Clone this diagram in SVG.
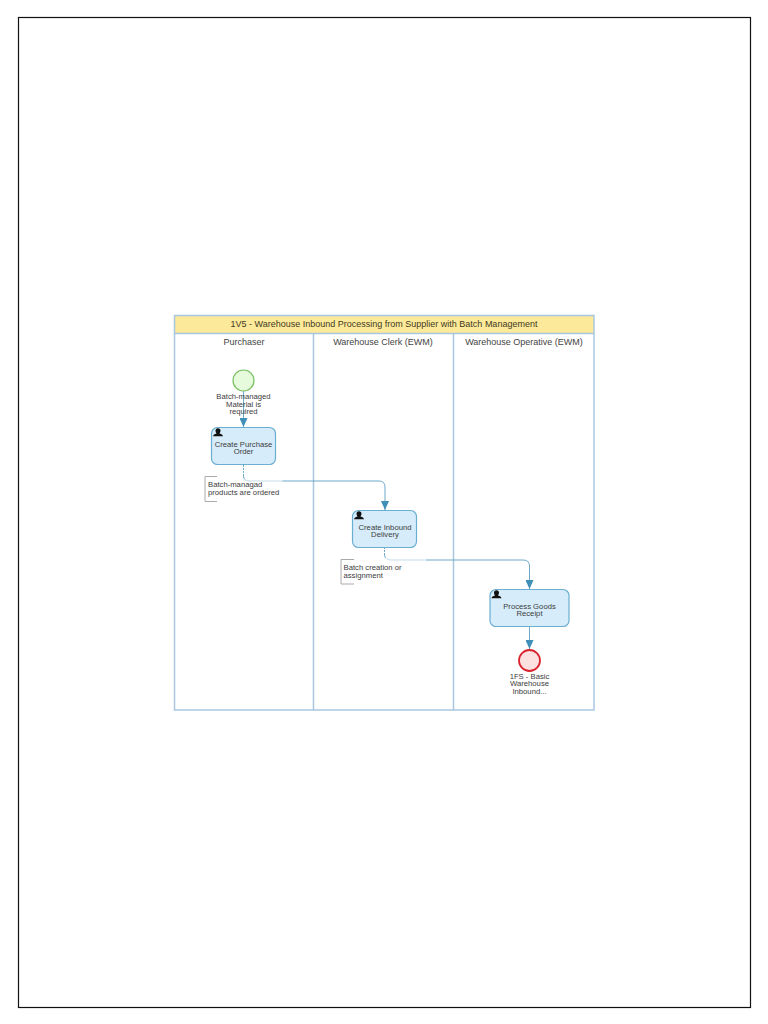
<svg xmlns="http://www.w3.org/2000/svg" width="768" height="1024" viewBox="0 0 768 1024">
<defs>
<marker id="arrowDown" markerUnits="userSpaceOnUse" markerWidth="9" markerHeight="8" refX="9" refY="4" orient="auto" viewBox="0 0 9 8"><path d="M0 0L9 4L0 8Z" fill="#3f8fb8"/></marker>
<path id="user" d="M-2.500 -4.200a2.500 2.500 0 0 1 5 0c0 1.200 -.5 2 -1 2.600c2.200 .5 3.200 1.400 3.600 2.900h-10.200c.4 -1.500 1.400 -2.400 3.600 -2.900c-.5 -.6 -1 -1.400 -1 -2.600z" fill="#111"/>
</defs>
<style>
text{font-family:"Liberation Sans",Arial,sans-serif;font-size:7.700px;fill:#3c3c3c;text-anchor:middle}
.head{font-size:9px;fill:#444}
.title{font-size:9px;fill:#3f3a22}
.note{text-anchor:start}
.lane{fill:none;stroke:#a9c6e0;stroke-width:1.500}
.task{fill:#d6ecfb;stroke:#6aaed0;stroke-width:1.200}
.flow{fill:none;stroke:#6fa9c9;stroke-width:1}
.bracket{fill:none;stroke:#aaa;stroke-width:1}
</style>
<rect x="18.500" y="17.500" width="732" height="990" fill="#fff" stroke="#111" stroke-width="1.200"/>
<g id="pool">
<rect x="174.500" y="315.500" width="419.500" height="18" fill="#fde99a"/>
<rect class="lane" x="174.500" y="315.500" width="419.500" height="394.500"/>
<path class="lane" d="M174.500 333.500H594M313.500 333.500V710M453.500 333.500V710"/>
<text class="title" x="384" y="327">1V5 - Warehouse Inbound Processing from Supplier with Batch Management</text>
<text class="head" x="244" y="345">Purchaser</text>
<text class="head" x="383" y="345">Warehouse Clerk (EWM)</text>
<text class="head" x="524" y="345">Warehouse Operative (EWM)</text>
</g>
<g id="connectors">
<path class="flow" d="M243.500 391V427" marker-end="url(#arrowDown)"/>
<path class="flow" d="M243.500 465V476" stroke-dasharray="2 1"/>
<path class="flow" d="M243.500 476Q243.500 481 250 481H379Q385 481 385 487V510" marker-end="url(#arrowDown)"/>
<path class="flow" d="M384.500 547V555" stroke-dasharray="2 1"/>
<path class="flow" d="M384.500 555Q385 560 392 560H523Q529.500 560 529.500 566V589" marker-end="url(#arrowDown)"/>
<path class="flow" d="M529.500 627V649" marker-end="url(#arrowDown)"/>
<rect x="244.500" y="479" width="38" height="4" fill="#fff" opacity=".6"/>
<rect x="386" y="558" width="40" height="4" fill="#fff" opacity=".6"/>
</g>
<g id="start">
<circle cx="243.500" cy="380.500" r="10.500" fill="#e6fadc" stroke="#79bf63" stroke-width="1.200"/>
<text x="243.500" y="399">Batch-managed</text>
<text x="243.500" y="406.500">Material is</text>
<text x="243.500" y="413.500">required</text>
</g>
<g id="task-purchase">
<rect class="task" x="211.500" y="427.500" width="64" height="37" rx="6"/>
<use href="#user" x="218" y="435"/>
<text x="243.500" y="446.500">Create Purchase</text>
<text x="243.500" y="454">Order</text>
</g>
<g id="note-ordered">
<path class="bracket" d="M217 476.500H205V501.500H217"/>
<text class="note" x="208" y="487">Batch-managad</text>
<text class="note" x="208" y="494.500">products are ordered</text>
</g>
<g id="task-inbound">
<rect class="task" x="352.500" y="510.500" width="64" height="37" rx="6"/>
<use href="#user" x="359" y="518"/>
<text x="385" y="529.500">Create Inbound</text>
<text x="385" y="537">Delivery</text>
</g>
<g id="note-batch">
<path class="bracket" d="M354 559.500H341V584H354"/>
<text class="note" x="343.500" y="570">Batch creation or</text>
<text class="note" x="343.500" y="577.500">assignment</text>
</g>
<g id="task-receipt">
<rect class="task" x="490" y="589.500" width="79" height="37" rx="6"/>
<use href="#user" x="496.500" y="597"/>
<text x="529.500" y="608.500">Process Goods</text>
<text x="529.500" y="616">Receipt</text>
</g>
<g id="end">
<circle cx="529.500" cy="660.500" r="10.500" fill="#fde0e0" stroke="#d9232e" stroke-width="1.800"/>
<text x="529.500" y="678.500">1FS - Basic</text>
<text x="529.500" y="686">Warehouse</text>
<text x="529.500" y="693.500">Inbound...</text>
</g>
</svg>
